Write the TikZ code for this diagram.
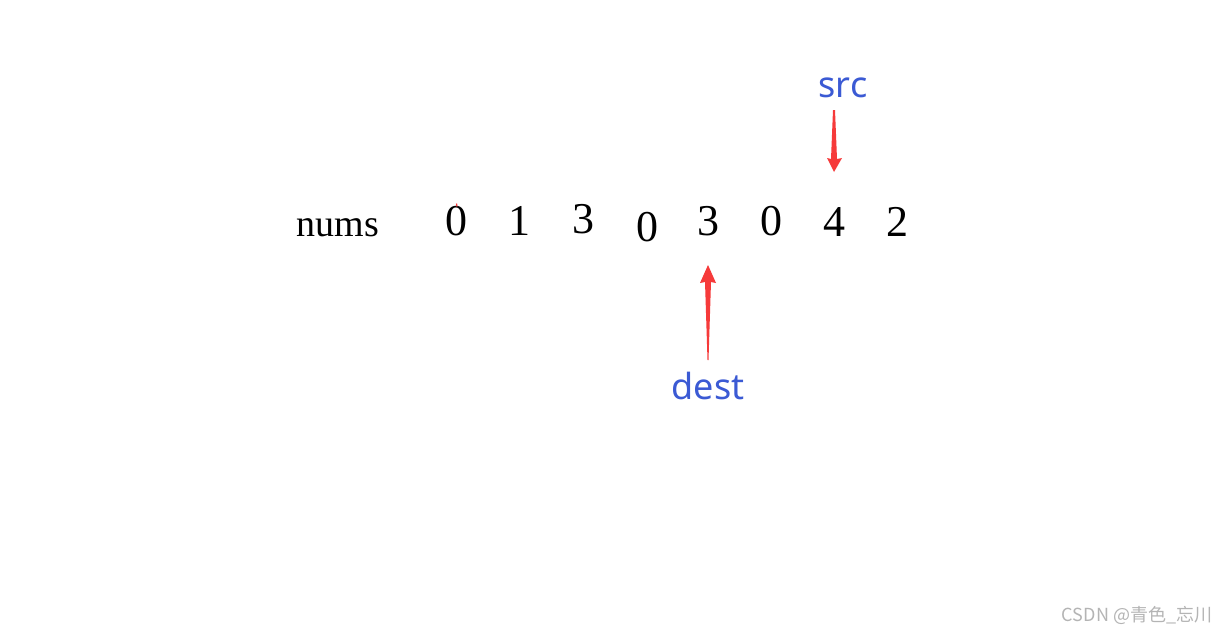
\documentclass[tikz,border=0pt]{standalone}
\usepackage{fontspec}
\setmainfont{Liberation Serif}
\newfontfamily\labfont{Noto Sans}
\newfontfamily\cjkfont{Noto Sans CJK SC}
\definecolor{labblue}{HTML}{3B5AD4}
\definecolor{arrred}{HTML}{F63A3A}
\definecolor{wmgray}{HTML}{B4B4B4}
\begin{document}
\begin{tikzpicture}[x=1pt,y=-1pt,
  digit/.style={inner sep=0pt,font=\fontsize{44}{44}\selectfont},
  numlab/.style={inner sep=0pt,font=\fontsize{38}{38}\selectfont},
  ptrlab/.style={inner sep=0pt,text=labblue,font=\labfont\fontsize{36}{36}\selectfont},
  redfill/.style={fill=arrred,draw=none}]
\useasboundingbox[fill=white] (0,0) rectangle (1230,634);
\node[numlab] (nums) at (338,228) {nums};
\node[digit] (d0) at (456,221) {0};
\node[digit] (d1) at (519,221) {1};
\node[digit] (d2) at (583,219) {3};
\node[digit] (d3) at (647,227) {0};
\node[digit] (d4) at (708,221) {3};
\node[digit] (d5) at (771,221) {0};
\node[digit] (d6) at (834,222) {4};
\node[digit] (d7) at (897,222) {2};
\node[ptrlab] (src) at (843,88) {src};
\node[ptrlab] (dest) at (708,386) {dest};
% src arrow (tapered, pointing down)
\fill[redfill] (833,110) -- (835,110) -- (837,159) -- (842,158) -- (834,172) -- (827,158) -- (831,159) -- cycle;
% dest arrow (tapered, pointing up)
\fill[redfill] (707.5,360) -- (708.5,360) -- (711,282) -- (716,283) -- (708,265) -- (700,283) -- (705,282) -- cycle;
% tiny red mark above first digit
\draw[arrred,line width=1.2pt] (456.5,203.5) -- (457,206.5);
\node[inner sep=0pt,text=wmgray,font=\fontsize{18}{18}\selectfont\cjkfont] (wm) at (1137,615) {CSDN @青色\_忘川};
\end{tikzpicture}
\end{document}
